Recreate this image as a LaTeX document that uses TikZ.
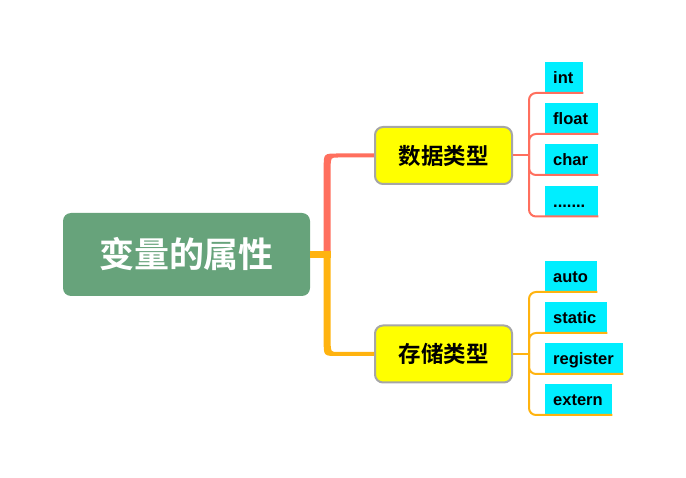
\documentclass[tikz,border=0pt]{standalone}
\usepackage{fontspec}
\setmainfont{Liberation Sans}
\newfontfamily\cjkb{Noto Sans CJK SC Bold}
\usetikzlibrary{calc}
\definecolor{rootgreen}{HTML}{67A37B}
\definecolor{redc}{HTML}{FF6F5E}
\definecolor{orc}{HTML}{FFB30F}
\definecolor{leafc}{HTML}{00EEFF}
\definecolor{midy}{HTML}{FFFF00}
\definecolor{midb}{HTML}{A6A6A6}
\begin{document}
\begin{tikzpicture}[x=1pt,y=-1pt,
  rootbox/.style={fill=rootgreen, rounded corners=8pt, minimum width=247pt, minimum height=83pt,
    text=white, font=\cjkb\fontsize{35}{40}\selectfont, inner sep=0pt},
  midbox/.style={fill=midy, draw=midb, line width=2pt, rounded corners=8pt, minimum width=137pt,
    minimum height=57pt, font=\cjkb\fontsize{22.5}{26}\selectfont, inner sep=0pt},
  leaf/.style={fill=leafc, text width=#1, inner xsep=8pt, inner ysep=0pt, minimum height=30.5pt,
    align=left, anchor=south west, font=\bfseries\fontsize{16.5}{19}\selectfont,
    text height=13pt, text depth=1pt},
  thin/.style={line width=2pt, rounded corners=7pt}
]
\useasboundingbox (0,0) rectangle (686,478);
\node[rootbox] (root) at (186.5,254.5) {变量的属性};
\node[midbox] (m1) at (443.5,155.5) {数据类型};
\node[midbox] (m2) at (443.5,354) {存储类型};

\node[leaf=22pt] (a1) at (545,93) {int};
\node[leaf=37pt] (a2) at (545,134) {float};
\node[leaf=37pt] (a3) at (545,175) {char};
\node[leaf=37pt] (a4) at (545,216.5) {.......};
\node[leaf=36pt] (b1) at (545,292) {auto};
\node[leaf=46pt] (b2) at (545,333) {static};
\node[leaf=62pt] (b3) at (545,374) {register};
\node[leaf=51pt] (b4) at (545,415) {extern};

\coordinate (j) at ($(root.east)+(17,0)$);
\coordinate (ct) at (j |- m1.west);
\coordinate (cb) at (j |- m2.west);
% main branches (tapering from the junction to the branch nodes)
\fill[redc] ($(j)+(-3.5,-3)$) -- ($(ct)+(-3.5,12)$)
  .. controls ($(ct)+(-3.5,-2)$) .. ($(ct)+(11,-2)$) -- ($(m1.west)+(0,-2)$)
  -- ($(m1.west)+(0,2)$) -- ($(ct)+(11,2)$)
  .. controls ($(ct)+(3.5,2)$) .. ($(ct)+(3.5,12)$) -- ($(j)+(3.5,-3)$) -- cycle;
\fill[orc] ($(j)+(-3.5,-3.5)$) -- ($(cb)+(-3.5,-12)$)
  .. controls ($(cb)+(-3.5,2)$) .. ($(cb)+(11,2)$) -- ($(m2.west)+(0,2)$)
  -- ($(m2.west)+(0,-2)$) -- ($(cb)+(11,-2)$)
  .. controls ($(cb)+(3.5,-2)$) .. ($(cb)+(3.5,-12)$) -- ($(j)+(3.5,-3.5)$) -- cycle;
\draw[orc, line width=7pt] (root.east) -- ($(j)+(3.5,0)$);

% leaf brackets
\coordinate (ba) at ($(m1.east)+(16,0)$);
\coordinate (bb) at ($(m2.east)+(16,0)$);
\draw[redc, line width=2pt] (m1.east) -- (ba);
\draw[orc, line width=2pt] (m2.east) -- (bb);
\foreach \n in {a1,a2,a3,a4}
  \draw[redc, thin] (ba) |- (\n.south west) -- (\n.south east);
\foreach \n in {b1,b2,b3,b4}
  \draw[orc, thin] (bb) |- (\n.south west) -- (\n.south east);
\end{tikzpicture}
\end{document}
